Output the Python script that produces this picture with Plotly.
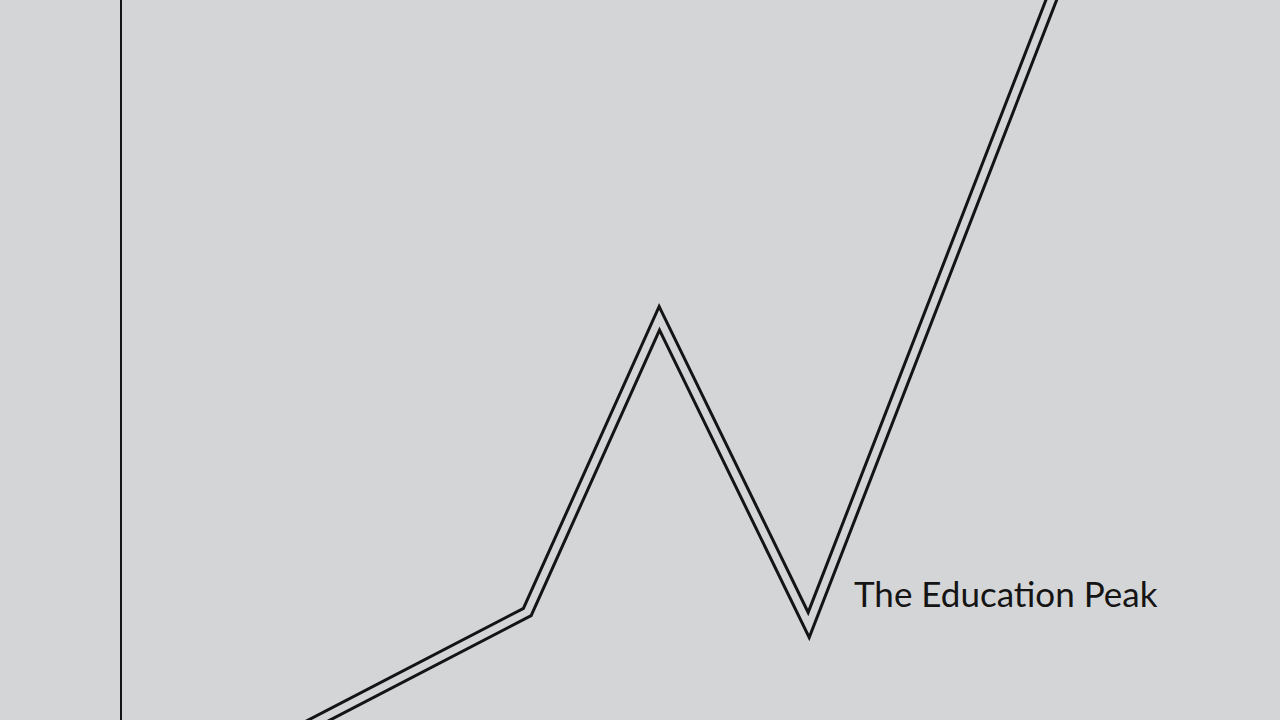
import plotly.graph_objects as go

# Data (arbitrary units)
stage_x = [1.2, 3.5, 4.64, 5.93, 8.16]
level_y = [-4.2, 15.0, 55.8, 13.2, 105.6]
label_text = "The Education Peak"
label_x = 6.31
label_y = 17.6

BG = "#d4d5d7"
INK = "#141414"

fig = go.Figure()
fig.add_trace(go.Scatter(x=stage_x, y=level_y, mode="lines",
                         line=dict(color=INK, width=13), hoverinfo="skip",
                         showlegend=False))
fig.add_trace(go.Scatter(x=stage_x, y=level_y, mode="lines",
                         line=dict(color=BG, width=7), hoverinfo="skip",
                         showlegend=False))

fig.add_annotation(x=label_x, y=label_y, text=label_text, showarrow=False,
                   xanchor="left", yanchor="middle", borderpad=0,
                   font=dict(family="Lato", size=35, color=INK))

fig.update_layout(
    width=1280, height=720,
    margin=dict(l=122, r=0, t=0, b=0),
    paper_bgcolor=BG, plot_bgcolor=BG,
    xaxis=dict(range=[0, 10], showgrid=False, zeroline=False,
               showticklabels=False, ticks="", showline=False, fixedrange=True),
    yaxis=dict(range=[0, 100], showgrid=False, zeroline=False,
               showticklabels=False, ticks="", showline=True,
               linecolor=INK, linewidth=2, fixedrange=True),
)

post = """
document.body.style.margin = '0';
document.body.style.background = '%s';
document.querySelectorAll('.scatterlayer path.js-line').forEach(function(p){
  p.style.strokeMiterlimit = '30';
  p.style.strokeLinejoin = 'miter';
});
""" % BG

fig.write_html("out.html", config={"displayModeBar": False}, post_script=post)
